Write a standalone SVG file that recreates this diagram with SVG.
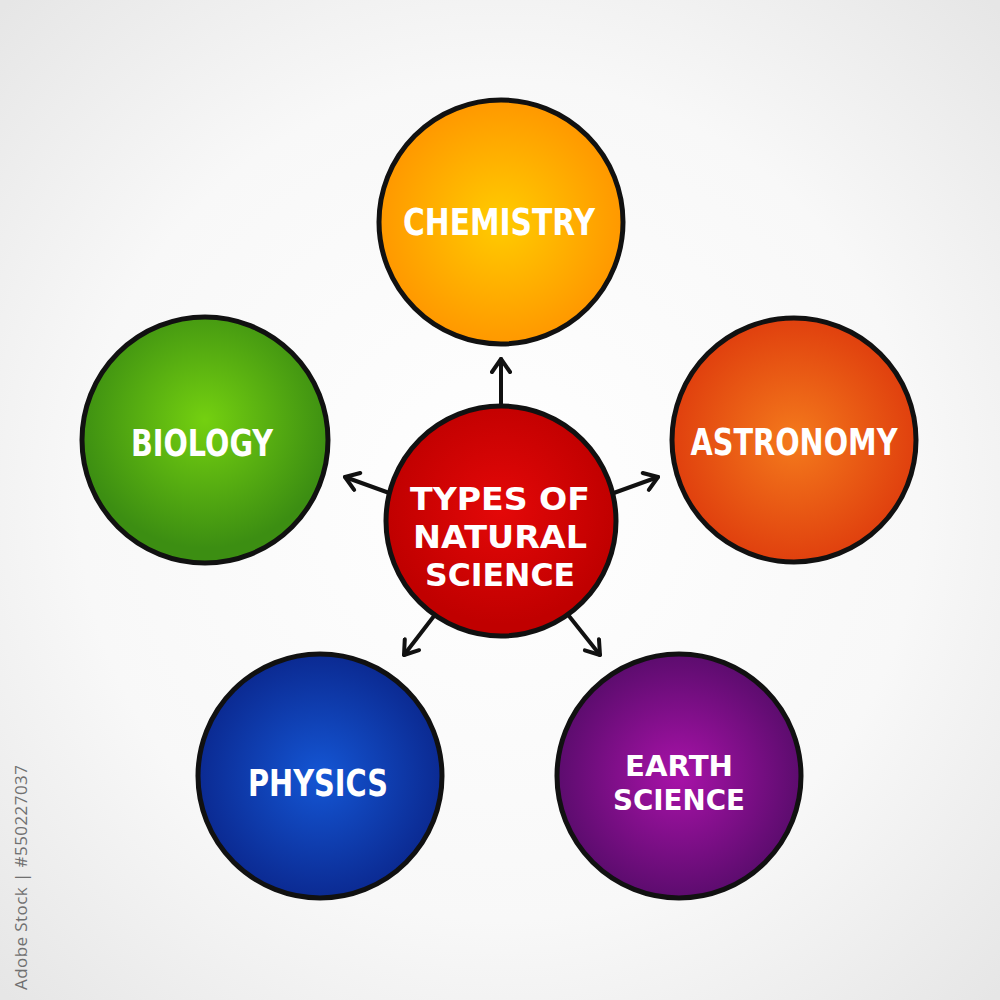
<svg xmlns="http://www.w3.org/2000/svg" width="1000" height="1000" viewBox="0 0 1000 1000">
<defs>
<radialGradient id="bg" cx="50%" cy="50%" r="70%"><stop offset="0" stop-color="#ffffff"/><stop offset="0.6" stop-color="#f8f8f8"/><stop offset="1" stop-color="#e6e6e6"/></radialGradient>
<radialGradient id="gChem" cx="50%" cy="50%" r="50%"><stop offset="0" stop-color="#ffcc00"/><stop offset="1" stop-color="#ff9800"/></radialGradient>
<radialGradient id="gAstro" cx="50%" cy="50%" r="50%"><stop offset="0" stop-color="#f47a1c"/><stop offset="1" stop-color="#e0400e"/></radialGradient>
<radialGradient id="gBio" cx="50%" cy="42%" r="52%"><stop offset="0" stop-color="#74d010"/><stop offset="1" stop-color="#3c8e12"/></radialGradient>
<radialGradient id="gPhys" cx="50%" cy="50%" r="50%"><stop offset="0" stop-color="#1456d4"/><stop offset="1" stop-color="#0b2a92"/></radialGradient>
<radialGradient id="gEarth" cx="50%" cy="50%" r="50%"><stop offset="0" stop-color="#a812a8"/><stop offset="1" stop-color="#5c0c6e"/></radialGradient>
<radialGradient id="gCenter" cx="50%" cy="45%" r="50%"><stop offset="0" stop-color="#e40808"/><stop offset="1" stop-color="#c00000"/></radialGradient>
<marker id="arr" viewBox="0 0 22 22" refX="18" refY="11" markerWidth="22" markerHeight="22" markerUnits="userSpaceOnUse" orient="auto">
<path d="M5 2 L18 11 L5 20" fill="none" stroke="#111" stroke-width="4" stroke-linecap="round" stroke-linejoin="round"/>
</marker>
</defs>
<style>
.node circle{stroke:#111;stroke-width:5}
.lbl{font-family:"DejaVu Sans","Open Sans",sans-serif;font-weight:700;fill:#ffffff;text-anchor:middle}
.conn line{stroke:#111;stroke-width:4;stroke-linecap:round;marker-end:url(#arr)}
.wm{font-family:"Open Sans",sans-serif;font-size:17px;fill:#707070}
</style>
<rect width="1000" height="1000" fill="url(#bg)"/>
<text class="wm" transform="translate(27,990) rotate(-90)" textLength="225">Adobe Stock | #550227037</text>
<g id="connectors" class="conn">
<line x1="501" y1="407" x2="501" y2="359"/>
<line x1="392" y1="494" x2="345" y2="477"/>
<line x1="611" y1="494" x2="658" y2="477"/>
<line x1="434" y1="616" x2="404" y2="655"/>
<line x1="569" y1="616" x2="600" y2="655"/>
</g>
<g id="chemistry" class="node"><circle cx="501" cy="222" r="122" fill="url(#gChem)"/><text class="lbl" x="499" y="235" font-size="38" textLength="192" lengthAdjust="spacingAndGlyphs">CHEMISTRY</text></g>
<g id="astronomy" class="node"><circle cx="794" cy="440" r="122" fill="url(#gAstro)"/><text class="lbl" x="794" y="455" font-size="38" textLength="207" lengthAdjust="spacingAndGlyphs">ASTRONOMY</text></g>
<g id="biology" class="node"><circle cx="205" cy="440" r="123" fill="url(#gBio)"/><text class="lbl" x="202" y="456" font-size="38" textLength="142" lengthAdjust="spacingAndGlyphs">BIOLOGY</text></g>
<g id="physics" class="node"><circle cx="320" cy="776" r="122" fill="url(#gPhys)"/><text class="lbl" x="318" y="796" font-size="38" textLength="140" lengthAdjust="spacingAndGlyphs">PHYSICS</text></g>
<g id="earth-science" class="node"><circle cx="679" cy="776" r="122" fill="url(#gEarth)"/><text class="lbl" x="679" y="776" font-size="29" textLength="108" lengthAdjust="spacingAndGlyphs">EARTH</text><text class="lbl" x="679" y="810" font-size="29" textLength="132" lengthAdjust="spacingAndGlyphs">SCIENCE</text></g>
<g id="center" class="node"><circle cx="501" cy="521" r="115" fill="url(#gCenter)"/><text class="lbl" x="500" y="510" font-size="32" textLength="180" lengthAdjust="spacingAndGlyphs">TYPES OF</text><text class="lbl" x="500" y="548" font-size="32" textLength="174" lengthAdjust="spacingAndGlyphs">NATURAL</text><text class="lbl" x="500" y="586" font-size="32" textLength="150" lengthAdjust="spacingAndGlyphs">SCIENCE</text></g>
</svg>
